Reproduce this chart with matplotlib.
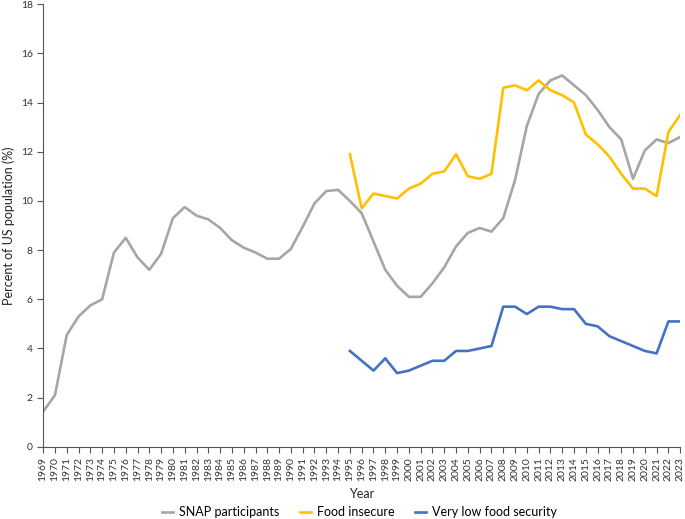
import matplotlib
matplotlib.use("Agg")
import matplotlib.pyplot as plt

plt.rcParams['font.family'] = ['Lato', 'DejaVu Sans']

# SNAP participants, 1969-2023
snap_years = list(range(1969, 2024))
snap = [1.43, 2.1, 4.55, 5.3, 5.75, 6.0, 7.9, 8.5, 7.7, 7.2,
        7.85, 9.3, 9.75, 9.4, 9.25, 8.9, 8.4, 8.1, 7.9, 7.65,
        7.65, 8.05, 8.95, 9.9, 10.4, 10.45, 10.0, 9.5, 8.35, 7.2,
        6.55, 6.1, 6.1, 6.65, 7.3, 8.15, 8.7, 8.9, 8.75, 9.3,
        10.85, 13.05, 14.35, 14.9, 15.1, 14.7, 14.3, 13.7, 13.0, 12.5,
        10.9, 12.05, 12.5, 12.35, 12.6]

# food security series, 1995-2023
fs_years = list(range(1995, 2024))
food_insecure = [11.9, 9.7, 10.3, 10.2, 10.1, 10.5, 10.7, 11.1, 11.2, 11.9,
                 11.0, 10.9, 11.1, 14.6, 14.7, 14.5, 14.9, 14.5, 14.3, 14.0,
                 12.7, 12.3, 11.8, 11.1, 10.5, 10.5, 10.2, 12.8, 13.5]
very_low = [3.9, 3.5, 3.1, 3.6, 3.0, 3.1, 3.3, 3.5, 3.5, 3.9,
            3.9, 4.0, 4.1, 5.7, 5.7, 5.4, 5.7, 5.7, 5.6, 5.6,
            5.0, 4.9, 4.5, 4.3, 4.1, 3.9, 3.8, 5.1, 5.1]

fig = plt.figure(figsize=(6.85, 5.19), dpi=100)
ax = fig.add_axes([0.063, 0.139, 0.930, 0.853])

ax.plot(snap_years, snap, color='#a6a6a6', lw=1.9, label='SNAP participants')
ax.plot(fs_years, food_insecure, color='#ffc000', lw=1.9, label='Food insecure')
ax.plot(fs_years, very_low, color='#4472c4', lw=1.9, label='Very low food security')

ax.set_xlim(1969, 2023)
ax.set_ylim(0, 18)
ax.set_xticks(snap_years)
ax.set_xticklabels([str(y) for y in snap_years], rotation=90, fontsize=7.5, color='#333333')
ax.set_yticks(range(0, 19, 2))
ax.tick_params(axis='y', labelsize=7.5, colors='#333333')
ax.tick_params(axis='both', length=4, width=0.8, color='#555555')
ax.spines['top'].set_visible(False)
ax.spines['right'].set_visible(False)
ax.spines['left'].set_color('#555555')
ax.spines['bottom'].set_color('#555555')
ax.margins(0)

ax.set_xlabel('Year', fontsize=9, color='#222222', labelpad=5)
ax.set_ylabel('Percent of US population (%)', fontsize=9, color='#222222', labelpad=4)

fig.legend(loc='lower center', bbox_to_anchor=(0.525, -0.02), ncol=3, frameon=False,
           fontsize=9, handlelength=0.9, columnspacing=1.6, handletextpad=0.5)

fig.savefig('out.png', dpi=100)
